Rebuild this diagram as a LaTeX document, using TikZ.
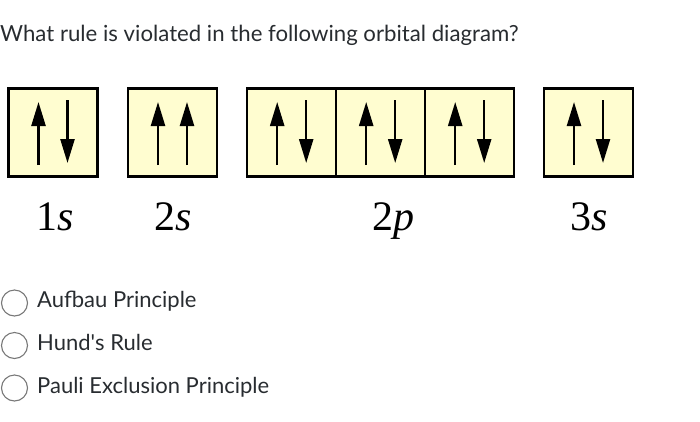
\documentclass[tikz,border=0pt]{standalone}
\usepackage{fontspec}
\setmainfont{Lato}
\newfontfamily\orbfont{Liberation Serif}
\usetikzlibrary{arrows.meta,positioning}

\begin{document}
\begin{tikzpicture}[%
        % 1 unit = 1 pixel of the reference, y grows downwards
        x=1pt,y=-1pt,
        orb/.style={draw=black,line width=2.4pt,fill=boxcolor,minimum width=89pt,minimum height=88pt,inner sep=0pt,outer sep=0pt},
        spin/.style={line width=2.4pt,-{Triangle[length=24pt,width=14pt]}},
        shell/.style={anchor=base,inner sep=0pt,font=\orbfont\fontsize{42}{46}\selectfont},
        radio/.style={circle,draw=radiogray,line width=1.1pt,minimum size=26pt,inner sep=0pt},
        answer/.style={anchor=base west,inner sep=0pt,text=textgray,font=\fontsize{22}{26}\selectfont}
        ]

        \def\dx{14.5};  % half distance between the two spins
        \def\Ly{132.5}; % row of the boxes

        \definecolor{boxcolor}{RGB}{255, 253, 208}
        \definecolor{textgray}{RGB}{40, 44, 48}
        \definecolor{radiogray}{RGB}{120, 120, 120}

        \useasboundingbox (0,0) rectangle (700,421);

        % question
        \node[anchor=base west,inner sep=0pt,text=textgray,font=\fontsize{22.2}{27}\selectfont] (question) at (0,41) {What rule is violated in the following orbital diagram?};

        % orbital boxes
        \node[orb] (s1) at (53,\Ly) {};
        \node[orb] (s2) at (172.5,\Ly) {};
        \node[orb] (p1) at (291.7,\Ly) {};
        \node[orb,right=0pt of p1] (p2) {};
        \node[orb,right=0pt of p2] (p3) {};
        \node[orb] (s3) at (588.5,\Ly) {};

        % spins: up on the left, down on the right
        \foreach \o in {s1,p1,p2,p3,s3}{
            \draw[spin] (\o.center) ++(-\dx,32.5) -- ++(0,-63);
            \draw[spin] (\o.center) ++(\dx,-32.5) -- ++(0,63);
        }
        % 2s: both up
        \draw[spin] (s2.center) ++(-\dx,32.5) -- ++(0,-63);
        \draw[spin] (s2.center) ++(\dx,32.5) -- ++(0,-63);

        % shell labels
        \node[shell] (l1s) at (55,230) {1\textit{s}};
        \node[shell] (l2s) at (173,230) {2\textit{s}};
        \node[shell] (l2p) at (393,230) {2\textit{p}};
        \node[shell] (l3s) at (589,230) {3\textit{s}};

        % answers
        \node[radio] (r1) at (14.5,303) {};
        \node[radio] (r2) at (14.5,345.5) {};
        \node[radio] (r3) at (14.5,388) {};
        \node[answer] (a1) at (37,307) {Aufbau Principle};
        \node[answer] (a2) at (37,350) {Hund\textquotesingle s Rule};
        \node[answer] (a3) at (37,393) {Pauli Exclusion Principle};

    \end{tikzpicture}
\end{document}
